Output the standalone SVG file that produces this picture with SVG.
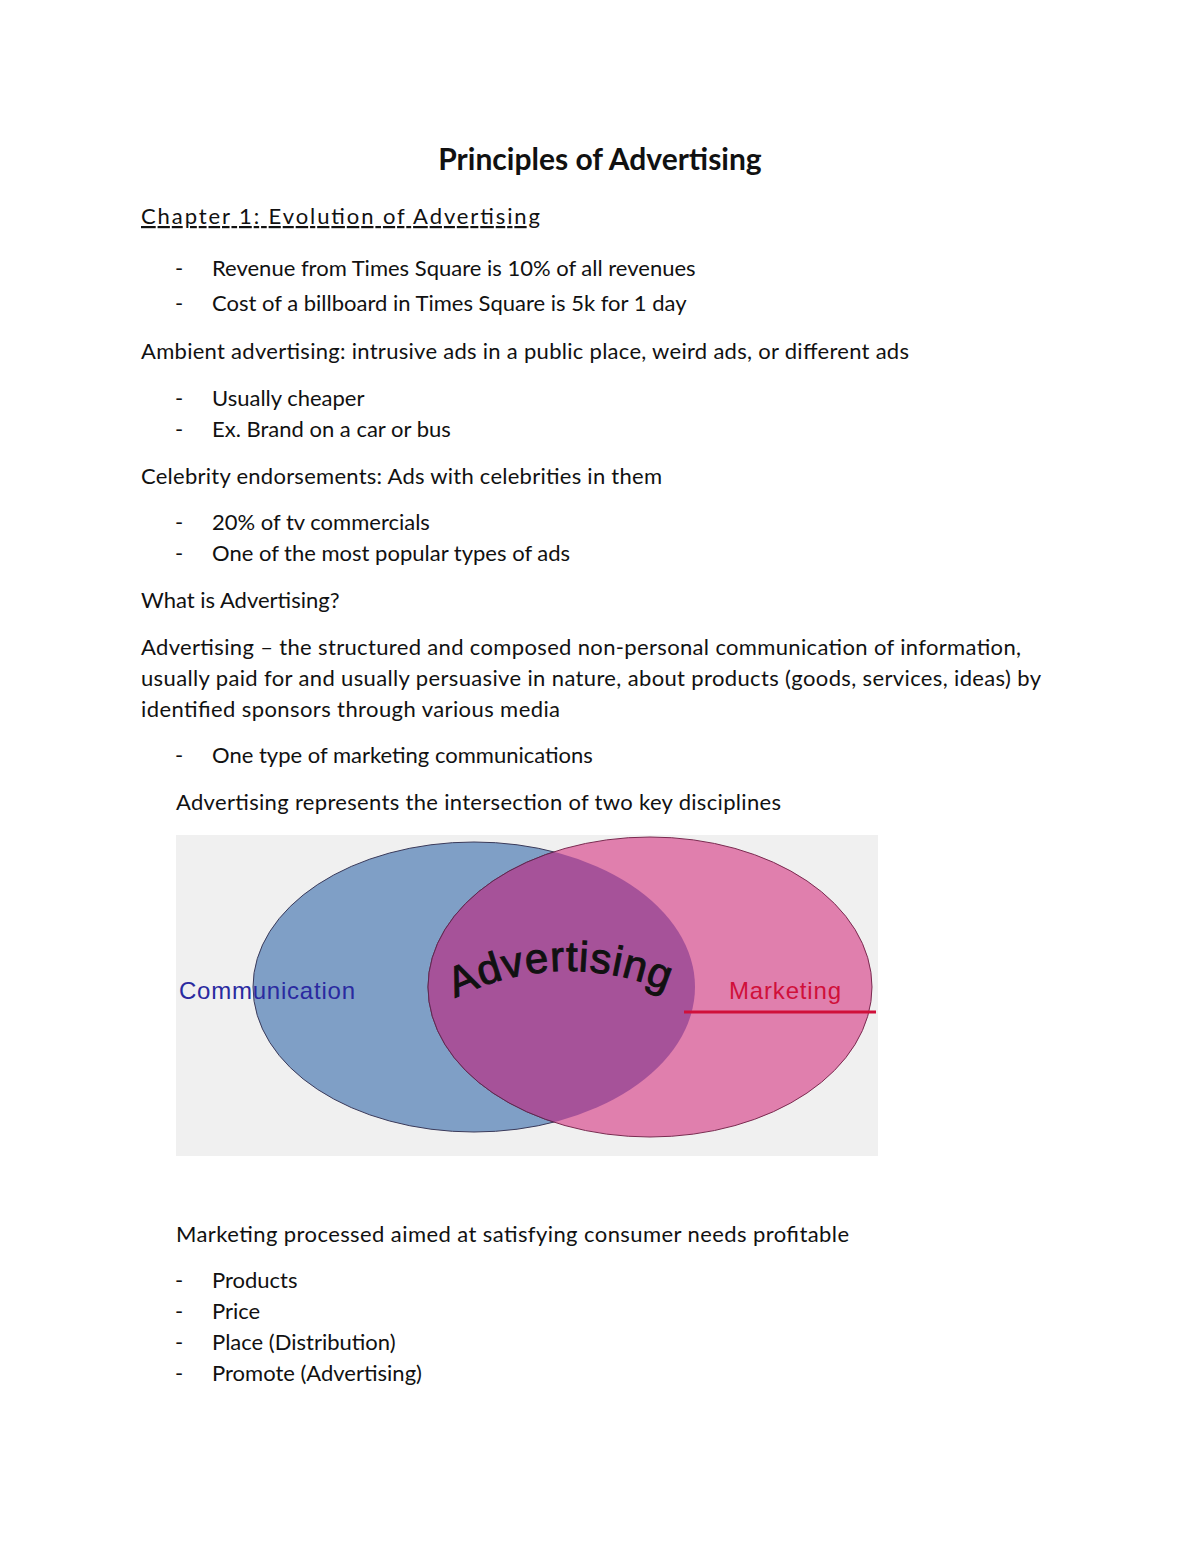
<svg xmlns="http://www.w3.org/2000/svg" width="1200" height="1553" viewBox="0 0 1200 1553">
<style>
.t{font-family:Lato,"Open Sans",sans-serif;font-size:22px;fill:#111}
.h{font-family:Lato,"Open Sans",sans-serif;font-size:30px;font-weight:bold;fill:#111}
</style>
<defs>
<clipPath id="cb"><ellipse cx="474" cy="987" rx="221" ry="145"/></clipPath>
<path id="arc" d="M455,998 Q565,945 675,995"/>
</defs>
<rect width="1200" height="1553" fill="#fff"/>
<text class="h" x="600" y="170" text-anchor="middle">Principles of Advertising</text>
<text class="t" x="141" y="224" text-decoration="underline" textLength="399">Chapter 1: Evolution of Advertising</text>
<g>
<text class="t" x="175" y="276">-</text><text class="t" x="212" y="276">Revenue from Times Square is 10% of all revenues</text>
<text class="t" x="175" y="311">-</text><text class="t" x="212" y="311">Cost of a billboard in Times Square is 5k for 1 day</text>
<text class="t" x="141" y="359" textLength="768">Ambient advertising: intrusive ads in a public place, weird ads, or different ads</text>
<text class="t" x="175" y="406">-</text><text class="t" x="212" y="406">Usually cheaper</text>
<text class="t" x="175" y="437">-</text><text class="t" x="212" y="437">Ex. Brand on a car or bus</text>
<text class="t" x="141" y="484" textLength="521">Celebrity endorsements: Ads with celebrities in them</text>
<text class="t" x="175" y="530">-</text><text class="t" x="212" y="530">20% of tv commercials</text>
<text class="t" x="175" y="561">-</text><text class="t" x="212" y="561">One of the most popular types of ads</text>
<text class="t" x="141" y="608">What is Advertising?</text>
<text class="t" x="141" y="655" textLength="880">Advertising – the structured and composed non-personal communication of information,</text>
<text class="t" x="141" y="686" textLength="900">usually paid for and usually persuasive in nature, about products (goods, services, ideas) by</text>
<text class="t" x="141" y="717" textLength="419">identified sponsors through various media</text>
<text class="t" x="175" y="763">-</text><text class="t" x="212" y="763">One type of marketing communications</text>
<text class="t" x="176" y="810" textLength="605">Advertising represents the intersection of two key disciplines</text>
</g>
<g id="venn">
<rect x="176" y="835" width="702" height="321" fill="#f0f0f0"/>
<ellipse cx="474" cy="987" rx="221" ry="145" fill="#7f9fc6" stroke="#3a3a5a" stroke-width="1"/>
<ellipse cx="650" cy="987" rx="222" ry="150" fill="#e07fad" stroke="#7a2a50" stroke-width="1"/>
<ellipse cx="650" cy="987" rx="222" ry="150" fill="#a65299" stroke="#5a2a50" stroke-width="1" clip-path="url(#cb)"/>
<text font-family="Liberation Sans,Arial,sans-serif" font-size="42" fill="#111" stroke="#111" stroke-width="1"><textPath href="#arc" textLength="218">Advertising</textPath></text>
<text x="179" y="999" font-family="Liberation Sans,Arial,sans-serif" font-size="24" fill="#2a2aa0" textLength="176">Communication</text>
<text x="729" y="999" font-family="Liberation Sans,Arial,sans-serif" font-size="24" fill="#d0103a" textLength="112">Marketing</text>
<line x1="684" y1="1012" x2="876" y2="1012" stroke="#d0103a" stroke-width="3"/>
</g>
<text class="t" x="176" y="1242" textLength="673">Marketing processed aimed at satisfying consumer needs profitable</text>
<text class="t" x="175" y="1288">-</text><text class="t" x="212" y="1288">Products</text>
<text class="t" x="175" y="1319">-</text><text class="t" x="212" y="1319">Price</text>
<text class="t" x="175" y="1350">-</text><text class="t" x="212" y="1350">Place (Distribution)</text>
<text class="t" x="175" y="1381">-</text><text class="t" x="212" y="1381">Promote (Advertising)</text>
</svg>
